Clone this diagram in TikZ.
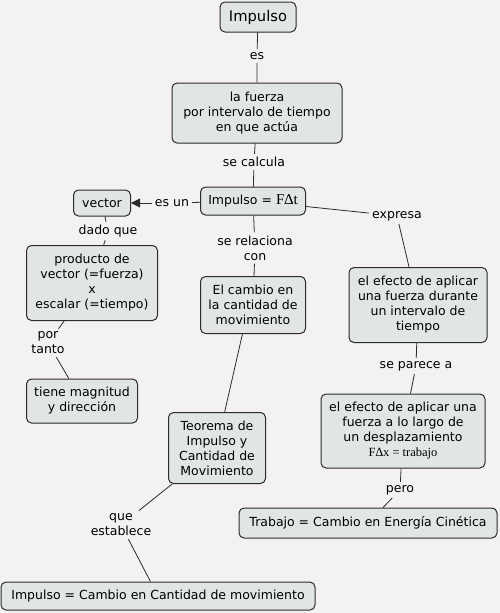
\documentclass[tikz,border=0pt]{standalone}
\usepackage{fontspec}
\setmainfont{DejaVu Sans}
\newfontfamily\serifa{Liberation Serif}
\usepackage{xcolor}
\usepackage{tikz}
\usetikzlibrary{arrows.meta}
\definecolor{FondoMapa}{HTML}{F4F2F1}
\definecolor{RellenoMapa}{HTML}{E1E5E6}
\definecolor{BordeMapa}{HTML}{2B2B2B}

\begin{document}
\begin{tikzpicture}[x = 1pt, y = -1pt,
    concepto/.style = {draw = BordeMapa, fill = RellenoMapa, line width = 1pt,
      rounded corners = 5pt, align = center, inner sep = 0pt,
      font = \fontsize{12.5}{15}\selectfont},
    enlace/.style = {fill = FondoMapa, align = center, inner sep = 3pt,
      font = \fontsize{12.5}{15}\selectfont},
    linea/.style = {draw = BordeMapa, line width = .8pt}]
  \fill[FondoMapa] (0,0) rectangle (500,613);

  \node[concepto, minimum width = 76pt, minimum height = 30pt,
    font = \fontsize{14.7}{17}\selectfont] (impulso) at (258,17) {Impulso};
  \node[concepto, minimum width = 170pt, minimum height = 60pt] (fuerza) at (257,113)
    {la fuerza\\por intervalo de tiempo\\en que actúa};
  \node[concepto, minimum width = 105pt, minimum height = 28pt] (formula) at (253,201)
    {Impulso = {\serifa\fontsize{15}{15}\selectfont F∆t}};
  \node[concepto, minimum width = 57pt, minimum height = 26pt] (vector) at (102,203) {vector};
  \node[concepto, minimum width = 131pt, minimum height = 75pt] (producto) at (92,283)
    {producto de\\vector (=fuerza)\\x\\escalar (=tiempo)};
  \node[concepto, minimum width = 111pt, minimum height = 44pt] (magnitud) at (82,401)
    {tiene magnitud\\y dirección};
  \node[concepto, minimum width = 105pt, minimum height = 57pt] (cambio) at (253,305)
    {El cambio en\\la cantidad de\\movimiento};
  \node[concepto, minimum width = 97pt, minimum height = 71pt] (teorema) at (217,448)
    {Teorema de\\Impulso y\\Cantidad de\\Movimiento};
  \node[concepto, minimum width = 314pt, minimum height = 28pt] (cantidad) at (158,596)
    {Impulso = Cambio en Cantidad de movimiento};
  \node[concepto, minimum width = 138pt, minimum height = 75pt] (efecto) at (418,305)
    {el efecto de aplicar\\una fuerza durante\\un intervalo de\\tiempo};
  \node[concepto, minimum width = 164pt, minimum height = 74pt] (desplaz) at (403,431)
    {el efecto de aplicar una\\fuerza a lo largo de\\un desplazamiento\\{\serifa F∆x = trabajo}};
  \node[concepto, minimum width = 258pt, minimum height = 30pt] (trabajo) at (368,523)
    {Trabajo = Cambio en Energía Cinética};

  \node[enlace] (es) at (257,56) {es};
  \node[enlace] (calcula) at (254,162) {se calcula};
  \node[enlace] (esun) at (172,203) {es un};
  \node[enlace] (dadoque) at (108,231) {dado que};
  \node[enlace] (portanto) at (48,343) {por\\tanto};
  \node[enlace] (relaciona) at (255,248) {se relaciona\\con};
  \node[enlace] (establece) at (121,525) {que\\establece};
  \node[enlace] (expresa) at (397,216) {expresa};
  \node[enlace] (parece) at (416,366) {se parece a};
  \node[enlace] (pero) at (400,490) {pero};

  \draw[linea] (impulso) -- (es) (es) -- (fuerza);
  \draw[linea] (fuerza) -- (calcula) (calcula) -- (formula);
  \draw[linea] (formula) -- (esun);
  \draw[linea, -{Triangle[length = 9pt, width = 9pt]}] (esun) -- (vector);
  \draw[linea] (vector) -- (dadoque) (dadoque) -- (producto);
  \draw[linea] (producto) -- (portanto) (portanto) -- (magnitud);
  \draw[linea] (formula) -- (relaciona) (relaciona) -- (cambio);
  \draw[linea] (cambio.250) -- (teorema.78);
  \draw[linea] (teorema) -- (establece) (establece) -- (cantidad);
  \draw[linea] (formula) -- (expresa) (expresa) -- (efecto);
  \draw[linea] (efecto) -- (parece) (parece) -- (desplaz);
  \draw[linea] (desplaz) -- (pero) (pero) -- (trabajo);
\end{tikzpicture}
\end{document}
